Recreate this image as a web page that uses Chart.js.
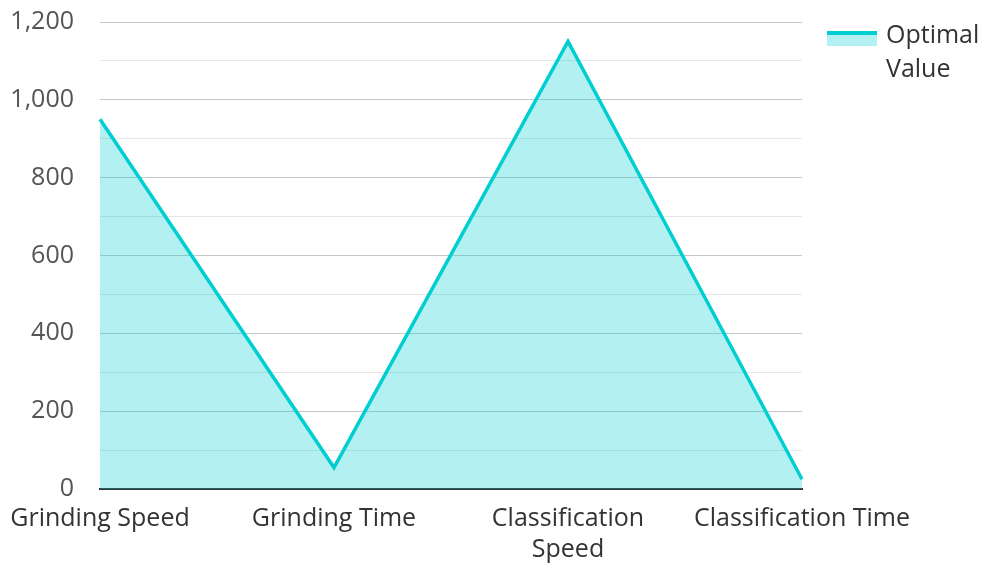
<!DOCTYPE html>
<html>
<head>
<meta charset="utf-8">
<script src="https://cdn.jsdelivr.net/npm/chart.js@4/dist/chart.umd.min.js"></script>
<style>
  html, body { margin: 0; padding: 0; background: #fff; }
  #wrap { width: 983px; height: 563px; position: relative; }
</style>
</head>
<body>
<div id="wrap"><canvas id="c"></canvas></div>
<script>
// Parameters along the x axis
const categories = ['Grinding Speed', 'Grinding Time', ['Classification', 'Speed'], 'Classification Time'];
// Optimal value for each parameter
const optimalValues = [950, 55, 1150, 25];
const seriesName = ['Optimal', 'Value'];

const LINE = '#00CED1';
const FILL = 'rgba(0, 206, 209, 0.3)';
const FONT = "'Open Sans', 'Noto Sans', sans-serif";

// Legend drawn at the right: swatch with a thick top stroke, text on two lines
const sideLegend = {
  id: 'sideLegend',
  afterDraw(chart) {
    const ctx = chart.ctx;
    const x = 827, y = 31, w = 50;
    ctx.save();
    ctx.fillStyle = FILL;
    ctx.fillRect(x, y + 4, w, 11);
    ctx.fillStyle = LINE;
    ctx.fillRect(x, y, w, 4);
    ctx.fillStyle = '#333';
    ctx.font = '25px ' + FONT;
    ctx.textBaseline = 'alphabetic';
    ctx.textAlign = 'left';
    seriesName.forEach((t, i) => ctx.fillText(t, 886, 43 + i * 34));
    ctx.restore();
  }
};

new Chart(document.getElementById('c'), {
  type: 'line',
  data: {
    labels: categories,
    datasets: [{
      label: seriesName.join(' '),
      data: optimalValues,
      borderColor: LINE,
      backgroundColor: FILL,
      borderWidth: 3.5,
      fill: 'origin',
      tension: 0,
      pointRadius: 0,
      pointHoverRadius: 0
    }]
  },
  options: {
    responsive: true,
    maintainAspectRatio: false,
    animation: false,
    layout: { padding: { left: 0, right: 181, top: 22, bottom: 0 } },
    plugins: {
      legend: { display: false },
      tooltip: { enabled: false }
    },
    scales: {
      x: {
        offset: false,
        grid: { display: false, drawTicks: false },
        border: { display: true, color: '#333', width: 2 },
        ticks: {
          color: '#333',
          font: { family: FONT, size: 25, lineHeight: 1.25 },
          padding: 14,
          maxRotation: 0,
          autoSkip: false
        },
        afterFit(scale) {
          scale.height = 74;
          scale.paddingLeft = 0;
          scale.paddingRight = 0;
        }
      },
      y: {
        min: 0,
        max: 1200,
        grid: {
          drawTicks: false,
          lineWidth: 1,
          color: (c) => (c.tick && c.tick.value % 200 === 0) ? '#c8c8c8' : '#e6e6e6'
        },
        border: { display: false },
        ticks: {
          stepSize: 100,
          color: '#555',
          padding: 26,
          font: { family: FONT, size: 25 },
          callback: (v) => v % 200 === 0 ? v.toLocaleString('en-US') : ''
        },
        afterFit(scale) {
          scale.width = 100;
          scale.paddingTop = 0;
          scale.paddingBottom = 0;
        }
      }
    }
  },
  plugins: [sideLegend]
});
</script>
</body>
</html>
